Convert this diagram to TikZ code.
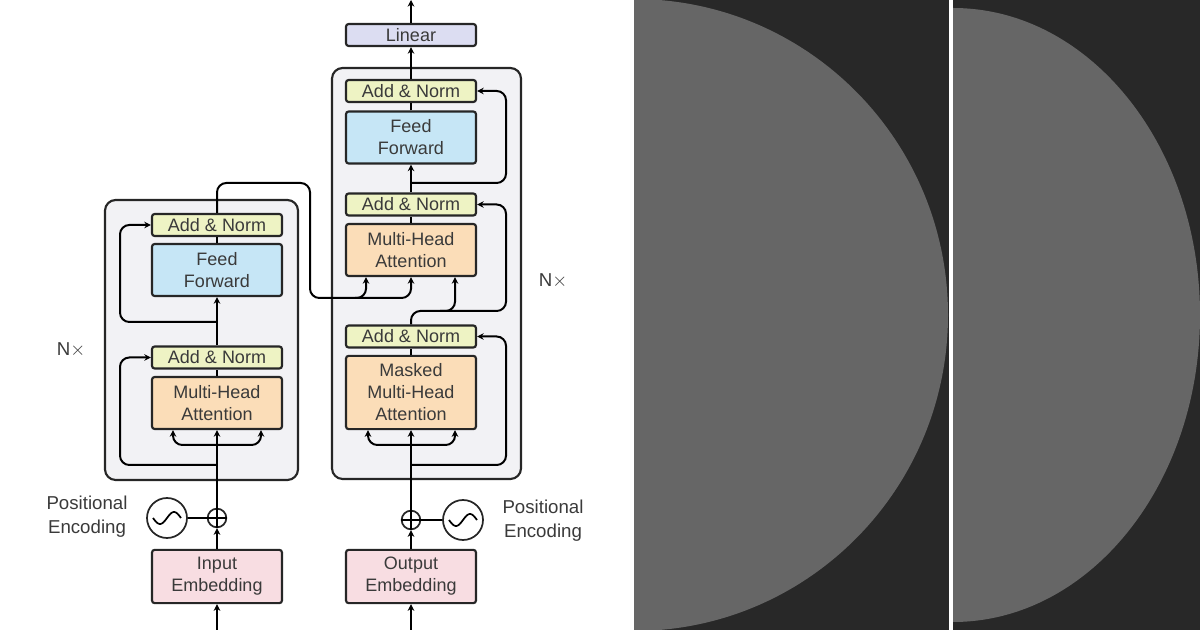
\documentclass[tikz,border=0pt]{standalone}
\usepackage{fontspec}
\setmainfont{Liberation Sans}
\usetikzlibrary{calc,arrows.meta}
\definecolor{txt}{HTML}{3A3A3A}
\definecolor{anc}{HTML}{EEF3C4}
\definecolor{ffc}{HTML}{C6E6F6}
\definecolor{mhc}{HTML}{FBDDB8}
\definecolor{pec}{HTML}{F8DDE2}
\definecolor{linc}{HTML}{DCDDF2}
\definecolor{boxc}{HTML}{F2F2F5}
\definecolor{dark}{HTML}{282828}
\definecolor{half}{HTML}{666666}
\tikzset{
 blk/.style={draw=black!85,line width=1.6pt,rounded corners=2pt,minimum width=97.5pt,align=center,text=txt,font=\fontsize{13.5}{16.5}\selectfont,inner sep=1pt},
 an/.style={blk,fill=anc,minimum height=16.5pt},
 ff/.style={blk,fill=ffc,minimum height=39pt},
 mh/.style={blk,fill=mhc,minimum height=39pt},
 pe/.style={blk,fill=pec,minimum height=40pt},
 lin/.style={blk,fill=linc,minimum height=16.5pt},
 arr/.style={line width=1.5pt,-{Stealth[length=5pt,width=5pt]},rounded corners=7pt},
 ln/.style={line width=1.5pt,rounded corners=7pt},
 outer/.style={draw=black!85,line width=1.6pt,fill=boxc,rounded corners=8pt},
 plus/.style={circle,draw=black!85,line width=1.3pt,minimum size=14pt,inner sep=0pt},
 sine/.style={circle,draw=black!85,line width=1.3pt,minimum size=30pt,inner sep=0pt},
 lbl/.style={text=txt,font=\fontsize{14}{18}\selectfont,align=center}
}
\begin{document}
\begin{tikzpicture}[x=0.75pt,y=-0.75pt]
\useasboundingbox (0,0) rectangle (1200,630);
% right panels
\fill[dark] (634,0) rectangle (949,630);
\fill[dark] (953,0) rectangle (1200,630);
\begin{scope}\clip (634,0) rectangle (949,630);
\fill[half] (634,315) ellipse (314 and 316);\end{scope}
\begin{scope}\clip (953,0) rectangle (1200,630);
\fill[half] (953,315) ellipse (247 and 307);\end{scope}
% outer boxes
\draw[outer] (105,200) rectangle (298,480);
\draw[outer] (332,68) rectangle (521,479);
% encoder nodes
\node[an] (eA2) at (217,225) {Add \& Norm};
\node[ff] (eFF) at (217,270) {Feed\\Forward};
\node[an] (eA1) at (217,357.5) {Add \& Norm};
\node[mh] (eM) at (217,403) {Multi-Head\\Attention};
\node[pe] (eE) at (217,576.5) {Input\\Embedding};
\node[plus] (eP) at (217,518) {};
\node[sine] (eS) at (167,518) {};
% decoder nodes
\node[lin] (lin) at (411,35) {Linear};
\node[an] (dA3) at (411,91) {Add \& Norm};
\node[ff] (dFF) at (411,137.5) {Feed\\Forward};
\node[an] (dA2) at (411,204.5) {Add \& Norm};
\node[mh] (dM) at (411,250) {Multi-Head\\Attention};
\node[an] (dA1) at (411,336.5) {Add \& Norm};
\node[mh,minimum height=55pt] (dMM) at (411,392.5) {Masked\\Multi-Head\\Attention};
\node[pe] (dE) at (411,576.5) {Output\\Embedding};
\node[plus] (dP) at (411,520) {};
\node[sine] (dS) at (463,520) {};
% labels
\node[lbl] (pel) at (87,517) {Positional\\Encoding};
\node[lbl] (per) at (543,521) {Positional\\Encoding};
\node[lbl] (nxl) at (71,350) {N$\times$};
\node[lbl] (nxr) at (553,281) {N$\times$};
% plus and sine glyphs
\foreach \p in {eP,dP}{\draw[line width=1.3pt] (\p.north)--(\p.south) (\p.west)--(\p.east);}
\draw[line width=1.3pt,shift={(eS.center)}] plot[domain=-14:14,samples=40,smooth] (\x,{-6*sin(\x*180/14)});
\draw[line width=1.3pt,shift={(dS.center)}] plot[domain=-14:14,samples=40,smooth] (\x,{-6*sin(\x*180/14)});
% encoder connections
\coordinate (eIn) at (217,630);
\coordinate (dIn) at (411,630);
\coordinate (out) at (411,0);
\draw[arr] (eIn) -- (eE);
\draw[arr] (eE) -- (eP);
\draw[ln] (eS) -- (eP);
\draw[arr] (eP) -- (eM);
\draw[arr] (217,445) -- (173,445) -- ($(eM.south)+(-44,0)$);
\draw[arr] (217,445) -- (261,445) -- ($(eM.south)+(44,0)$);
\draw[arr] (217,465) -- (120,465) -- (120,357.5) -- (eA1.west);
\draw[ln] (eM) -- (eA1);
\draw[arr] (eA1) -- (eFF);
\draw[ln] (eFF) -- (eA2);
\draw[arr] (217,322) -- (120,322) -- (120,225) -- (eA2.west);
\draw[arr] (eA2.north) -- (217,183) -- (310,183) -- (310,298) -- (366,298) -- ($(dM.south)+(-45,0)$);
\draw[arr] (355,298) -- (411,298) -- (dM.south);
% decoder connections
\draw[arr] (dIn) -- (dE);
\draw[arr] (dE) -- (dP);
\draw[ln] (dS) -- (dP);
\draw[arr] (dP) -- (dMM);
\draw[arr] (411,445) -- (368,445) -- ($(dMM.south)+(-43,0)$);
\draw[arr] (411,445) -- (455,445) -- ($(dMM.south)+(44,0)$);
\draw[arr] (411,465) -- (506,465) -- (506,336.5) -- (dA1.east);
\draw[ln] (dMM) -- (dA1);
\draw[arr] (dA1.north) -- (411,311) -- (455,311) -- ($(dM.south)+(44,0)$);
\draw[arr] (440,311) -- (506,311) -- (506,204.5) -- (dA2.east);
\draw[ln] (dM) -- (dA2);
\draw[arr] (dA2) -- (dFF);
\draw[ln] (dFF) -- (dA3);
\draw[arr] (411,183) -- (506,183) -- (506,91) -- (dA3.east);
\draw[arr] (dA3) -- (lin);
\draw[arr] (lin) -- (out);
\end{tikzpicture}
\end{document}
